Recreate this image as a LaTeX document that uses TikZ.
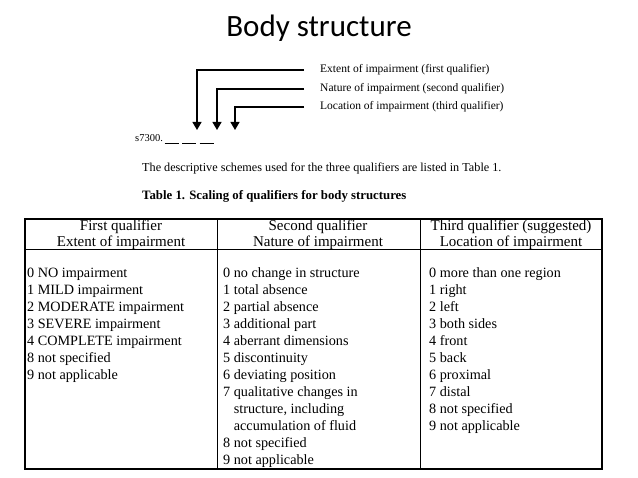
\documentclass[tikz,border=0pt]{standalone}
\usepackage{fontspec}
\setmainfont{Liberation Serif}
\newfontfamily\titlefont{Carlito}
\usetikzlibrary{arrows.meta}
\begin{document}
\begin{tikzpicture}[x=1pt,y=-1pt]
                \tikzstyle{cell}=[anchor=base west,inner sep=0pt,font=\fontsize{14.2}{15}\selectfont]
                \tikzstyle{head}=[align=center,inner sep=0pt,font=\fontsize{15}{16}\selectfont]
                \tikzstyle{small}=[anchor=west,inner sep=0pt,font=\fontsize{11.5}{12}\selectfont]
                \tikzstyle{pointer}=[-{Triangle[width=9pt,length=8pt]},line width=1.2pt]
                        \useasboundingbox (0,0) rectangle (638,478);
                        \node[font=\titlefont\fontsize{31}{33}\selectfont] (title) at (319,28){Body structure};
                        % qualifier labels
                        \node[small] (Q-1) at (320,70){Extent of impairment (first qualifier)};
                        \node[small] (Q-2) at (320,89){Nature of impairment (second qualifier)};
                        \node[small] (Q-3) at (320,107){Location of impairment (third qualifier)};
                        \coordinate (A-1) at (197,130);
                        \coordinate (A-2) at (217,130);
                        \coordinate (A-3) at (235,130);
                        \foreach \i in {1,2,3}
                            \draw[pointer] ([xshift=-16pt]Q-\i.west) -| (A-\i);
                        \node[small,font=\fontsize{10.5}{11}\selectfont] (code) at (135,139){s7300.\,\underline{\hspace{14pt}}\,\,\underline{\hspace{14pt}}\,\,\underline{\hspace{14pt}}};
                        \node[small,font=\fontsize{12.2}{13}\selectfont] (note) at (142,169){The descriptive schemes used for the three qualifiers are listed in Table 1.};
                        \node[small,font=\bfseries\fontsize{12.8}{13}\selectfont] (caption) at (142,196){Table 1. Scaling of qualifiers for body structures};
                        % table
                        \draw[line width=1.3pt] (25,219) rectangle (602,469);
                        \draw[line width=1pt] (25,250) -- (602,250);
                        \draw[line width=1pt] (217,219) -- (217,469);
                        \draw[line width=1pt] (420,219) -- (420,469);
                        \node[head] (H-1) at (121,235){First qualifier\\Extent of impairment};
                        \node[head] (H-2) at (318,235){Second qualifier\\Nature of impairment};
                        \node[head] (H-3) at (511,235){Third qualifier (suggested)\\Location of impairment};
                    \foreach \t [count=\n from 0] in {0 NO impairment, 1 MILD impairment, 2 MODERATE impairment, 3 SEVERE impairment, 4 COMPLETE impairment, 8 not specified, 9 not applicable}
                        \node[cell] (C1-\n) at (27,278+17*\n){\t};
                    \foreach \t [count=\n from 0] in {0 no change in structure, 1 total absence, 2 partial absence, 3 additional part, 4 aberrant dimensions, 5 discontinuity, 6 deviating position, 7 qualitative changes in, {\phantom{7 }structure, including}, \phantom{7 }accumulation of fluid, 8 not specified, 9 not applicable}
                        \node[cell] (C2-\n) at (223,278+17*\n){\t};
                    \foreach \t [count=\n from 0] in {0 more than one region, 1 right, 2 left, 3 both sides, 4 front, 5 back, 6 proximal, 7 distal, 8 not specified, 9 not applicable}
                        \node[cell] (C3-\n) at (429,278+17*\n){\t};
            \end{tikzpicture}
\end{document}
